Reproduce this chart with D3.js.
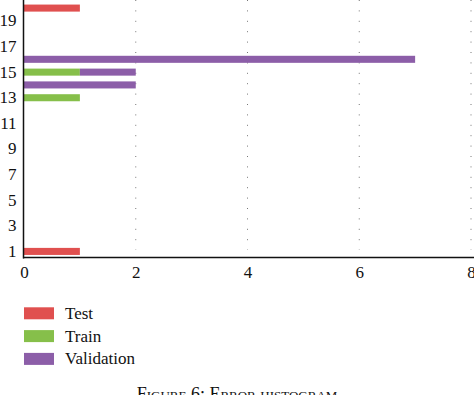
<!DOCTYPE html>
<html>
<head>
<meta charset="utf-8">
<script src="https://cdn.jsdelivr.net/npm/d3@7"></script>
<style>
  body { margin: 0; background: #fff; }
  svg { display: block; }
  svg text { font-family: "Liberation Serif", "DejaVu Serif", serif; fill: #111; }
</style>
</head>
<body>
<svg id="chart"></svg>
<script>
/* data */
var bins = d3.range(1, 21);            // histogram bins 1..20
var series = ["Test", "Train", "Validation"];
var colors = ["#e0504f", "#86bf4a", "#8c5ea8"];
var testCounts  = [1,0,0,0,0,0,0,0,0,0,0,0,0,0,0,0,0,0,0,1];
var trainCounts = [0,0,0,0,0,0,0,0,0,0,0,0,1,0,1,0,0,0,0,0];
var valCounts   = [0,0,0,0,0,0,0,0,0,0,0,0,0,2,1,7,0,0,0,0];
var yTicks = [1,3,5,7,9,11,13,15,17,19];
var xTicks = [0,2,4,6,8];
var caption = "Figure 6: Error histogram";

var width = 474, height = 395;
var serif = "Liberation Serif, DejaVu Serif, serif";
var svg = d3.select("#chart").attr("width", width).attr("height", height);

/* scales */
var xScale = d3.scaleLinear().domain([0, 8]).range([24, 471]);
var yScale = d3.scaleBand()
  .domain(bins.slice().reverse())
  .range([2, 257.5])
  .paddingInner(0.45)
  .paddingOuter(0.2);

var table = bins.map(function (b, i){
  return { bin: b, Test: testCounts[i], Train: trainCounts[i], Validation: valCounts[i] };
});
var stacked = d3.stack().keys(series)(table);

/* dotted grid */
svg.append("g").selectAll("line")
  .data(xTicks.slice(1))
  .enter().append("line")
    .attr("x1", function (d){ return xScale(d); })
    .attr("x2", function (d){ return xScale(d); })
    .attr("y1", 0)
    .attr("y2", 250)
    .attr("stroke", "#777")
    .attr("stroke-width", 1)
    .attr("stroke-dasharray", "1,9.4");

/* bars */
svg.append("g").selectAll("g")
  .data(stacked)
  .enter().append("g")
    .attr("fill", function (d, i){ return colors[i]; })
  .selectAll("rect")
  .data(function (d){ return d.filter(function (p){ return p[1] > p[0]; }); })
  .enter().append("rect")
    .attr("x", function (d){ return xScale(d[0]); })
    .attr("width", function (d){ return xScale(d[1]) - xScale(d[0]); })
    .attr("y", function (d){ return yScale(d.data.bin); })
    .attr("height", yScale.bandwidth());

/* axes */
var yAxisG = svg.append("g")
  .attr("transform", "translate(23.5,0)")
  .call(d3.axisLeft(yScale).tickValues(yTicks).tickSize(0).tickPadding(7))
  .attr("font-family", serif)
  .attr("font-size", 17);
yAxisG.select(".domain").remove();

var xAxisG = svg.append("g")
  .attr("transform", "translate(0,257.5)")
  .call(d3.axisBottom(xScale).tickValues(xTicks).tickSize(0).tickPadding(8))
  .attr("font-family", serif)
  .attr("font-size", 17);
xAxisG.select(".domain").remove();

svg.append("line")
  .attr("x1", 23.5).attr("x2", 23.5).attr("y1", 0).attr("y2", 258.5)
  .attr("stroke", "#111").attr("stroke-width", 1.5);
svg.append("line")
  .attr("x1", 23).attr("x2", width).attr("y1", 257.5).attr("y2", 257.5)
  .attr("stroke", "#111").attr("stroke-width", 1.5);

/* legend */
var legend = svg.append("g").selectAll("g")
  .data(series)
  .enter().append("g")
    .attr("transform", function (d, i){ return "translate(24," + (307.3 + i * 22.8) + ")"; });
legend.append("rect")
  .attr("width", 30).attr("height", 12)
  .attr("fill", function (d, i){ return colors[i]; });
legend.append("text")
  .attr("x", 41).attr("y", 11.5)
  .attr("font-family", serif)
  .attr("font-size", 17)
  .text(function (d){ return d; });

/* caption, cut by the lower edge as in the figure */
svg.append("text")
  .attr("x", width / 2).attr("y", 400)
  .attr("text-anchor", "middle")
  .attr("font-family", serif)
  .attr("font-size", 18)
  .style("font-variant", "small-caps")
  .text(caption);
</script>
</body>
</html>
